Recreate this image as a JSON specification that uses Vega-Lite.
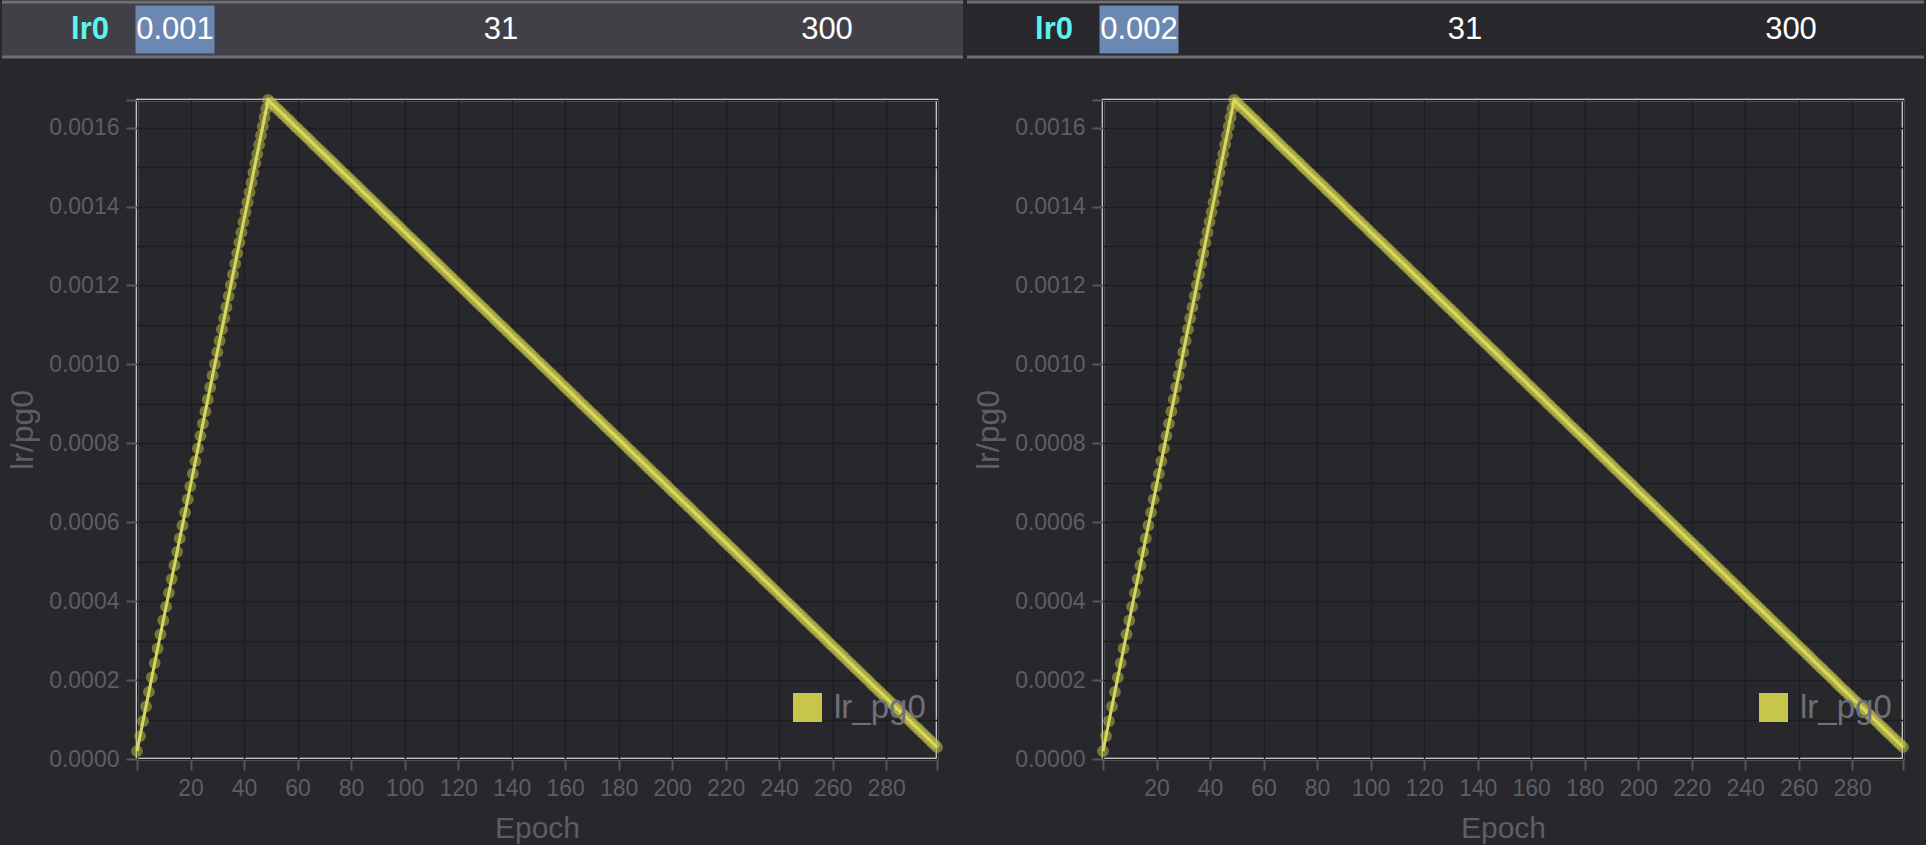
{
  "$schema": "https://vega.github.io/schema/vega-lite/v6.json",
  "background": "#27272c",
  "padding": 0,
  "spacing": 0,
  "resolve": {"scale": {"color": "independent"}, "legend": {"color": "independent"}},
  "datasets": {
    "lr": [
      {"epoch":0,"lr":0.00002},{"epoch":1.13,"lr":0.000058},{"epoch":2.25,"lr":0.000096},{"epoch":3.36,"lr":0.000133},
      {"epoch":4.46,"lr":0.00017},{"epoch":5.55,"lr":0.000207},{"epoch":6.63,"lr":0.000243},{"epoch":7.71,"lr":0.00028},
      {"epoch":8.78,"lr":0.000316},{"epoch":9.83,"lr":0.000351},{"epoch":10.88,"lr":0.000386},{"epoch":11.92,"lr":0.000421},
      {"epoch":12.95,"lr":0.000456},{"epoch":13.98,"lr":0.000491},{"epoch":14.99,"lr":0.000525},{"epoch":15.99,"lr":0.000559},
      {"epoch":16.99,"lr":0.000592},{"epoch":17.98,"lr":0.000625},{"epoch":18.96,"lr":0.000658},{"epoch":19.93,"lr":0.000691},
      {"epoch":20.89,"lr":0.000723},{"epoch":21.84,"lr":0.000755},{"epoch":22.78,"lr":0.000787},{"epoch":23.72,"lr":0.000819},
      {"epoch":24.64,"lr":0.00085},{"epoch":25.56,"lr":0.000881},{"epoch":26.47,"lr":0.000911},{"epoch":27.37,"lr":0.000942},
      {"epoch":28.26,"lr":0.000972},{"epoch":29.14,"lr":0.001001},{"epoch":30.02,"lr":0.001031},{"epoch":30.88,"lr":0.00106},
      {"epoch":31.74,"lr":0.001089},{"epoch":32.58,"lr":0.001117},{"epoch":33.42,"lr":0.001145},{"epoch":34.25,"lr":0.001173},
      {"epoch":35.07,"lr":0.001201},{"epoch":35.88,"lr":0.001228},{"epoch":36.69,"lr":0.001255},{"epoch":37.48,"lr":0.001282},
      {"epoch":38.27,"lr":0.001309},{"epoch":39.04,"lr":0.001335},{"epoch":39.81,"lr":0.001361},{"epoch":40.57,"lr":0.001386},
      {"epoch":41.32,"lr":0.001411},{"epoch":42.06,"lr":0.001436},{"epoch":42.8,"lr":0.001461},{"epoch":43.52,"lr":0.001486},
      {"epoch":44.24,"lr":0.00151},{"epoch":44.94,"lr":0.001533},{"epoch":45.64,"lr":0.001557},{"epoch":46.33,"lr":0.00158},
      {"epoch":47.01,"lr":0.001603},{"epoch":47.68,"lr":0.001626},{"epoch":48.35,"lr":0.001648},{"epoch":49,"lr":0.00167},
      {"epoch":50,"lr":0.001663},{"epoch":51,"lr":0.001657},{"epoch":52,"lr":0.00165},{"epoch":53,"lr":0.001644},{"epoch":54,"lr":0.001637},
      {"epoch":55,"lr":0.001631},{"epoch":56,"lr":0.001624},{"epoch":57,"lr":0.001618},{"epoch":58,"lr":0.001611},{"epoch":59,"lr":0.001604},
      {"epoch":60,"lr":0.001598},{"epoch":61,"lr":0.001591},{"epoch":62,"lr":0.001585},{"epoch":63,"lr":0.001578},{"epoch":64,"lr":0.001572},
      {"epoch":65,"lr":0.001565},{"epoch":66,"lr":0.001558},{"epoch":67,"lr":0.001552},{"epoch":68,"lr":0.001545},{"epoch":69,"lr":0.001539},
      {"epoch":70,"lr":0.001532},{"epoch":71,"lr":0.001526},{"epoch":72,"lr":0.001519},{"epoch":73,"lr":0.001513},{"epoch":74,"lr":0.001506},
      {"epoch":75,"lr":0.001499},{"epoch":76,"lr":0.001493},{"epoch":77,"lr":0.001486},{"epoch":78,"lr":0.00148},{"epoch":79,"lr":0.001473},
      {"epoch":80,"lr":0.001467},{"epoch":81,"lr":0.00146},{"epoch":82,"lr":0.001454},{"epoch":83,"lr":0.001447},{"epoch":84,"lr":0.00144},
      {"epoch":85,"lr":0.001434},{"epoch":86,"lr":0.001427},{"epoch":87,"lr":0.001421},{"epoch":88,"lr":0.001414},{"epoch":89,"lr":0.001408},
      {"epoch":90,"lr":0.001401},{"epoch":91,"lr":0.001394},{"epoch":92,"lr":0.001388},{"epoch":93,"lr":0.001381},{"epoch":94,"lr":0.001375},
      {"epoch":95,"lr":0.001368},{"epoch":96,"lr":0.001362},{"epoch":97,"lr":0.001355},{"epoch":98,"lr":0.001349},{"epoch":99,"lr":0.001342},
      {"epoch":100,"lr":0.001335},{"epoch":101,"lr":0.001329},{"epoch":102,"lr":0.001322},{"epoch":103,"lr":0.001316},{"epoch":104,"lr":0.001309},
      {"epoch":105,"lr":0.001303},{"epoch":106,"lr":0.001296},{"epoch":107,"lr":0.00129},{"epoch":108,"lr":0.001283},{"epoch":109,"lr":0.001276},
      {"epoch":110,"lr":0.00127},{"epoch":111,"lr":0.001263},{"epoch":112,"lr":0.001257},{"epoch":113,"lr":0.00125},{"epoch":114,"lr":0.001244},
      {"epoch":115,"lr":0.001237},{"epoch":116,"lr":0.00123},{"epoch":117,"lr":0.001224},{"epoch":118,"lr":0.001217},{"epoch":119,"lr":0.001211},
      {"epoch":120,"lr":0.001204},{"epoch":121,"lr":0.001198},{"epoch":122,"lr":0.001191},{"epoch":123,"lr":0.001185},{"epoch":124,"lr":0.001178},
      {"epoch":125,"lr":0.001171},{"epoch":126,"lr":0.001165},{"epoch":127,"lr":0.001158},{"epoch":128,"lr":0.001152},{"epoch":129,"lr":0.001145},
      {"epoch":130,"lr":0.001139},{"epoch":131,"lr":0.001132},{"epoch":132,"lr":0.001126},{"epoch":133,"lr":0.001119},{"epoch":134,"lr":0.001112},
      {"epoch":135,"lr":0.001106},{"epoch":136,"lr":0.001099},{"epoch":137,"lr":0.001093},{"epoch":138,"lr":0.001086},{"epoch":139,"lr":0.00108},
      {"epoch":140,"lr":0.001073},{"epoch":141,"lr":0.001066},{"epoch":142,"lr":0.00106},{"epoch":143,"lr":0.001053},{"epoch":144,"lr":0.001047},
      {"epoch":145,"lr":0.00104},{"epoch":146,"lr":0.001034},{"epoch":147,"lr":0.001027},{"epoch":148,"lr":0.001021},{"epoch":149,"lr":0.001014},
      {"epoch":150,"lr":0.001007},{"epoch":151,"lr":0.001001},{"epoch":152,"lr":0.000994},{"epoch":153,"lr":0.000988},{"epoch":154,"lr":0.000981},
      {"epoch":155,"lr":0.000975},{"epoch":156,"lr":0.000968},{"epoch":157,"lr":0.000962},{"epoch":158,"lr":0.000955},{"epoch":159,"lr":0.000948},
      {"epoch":160,"lr":0.000942},{"epoch":161,"lr":0.000935},{"epoch":162,"lr":0.000929},{"epoch":163,"lr":0.000922},{"epoch":164,"lr":0.000916},
      {"epoch":165,"lr":0.000909},{"epoch":166,"lr":0.000902},{"epoch":167,"lr":0.000896},{"epoch":168,"lr":0.000889},{"epoch":169,"lr":0.000883},
      {"epoch":170,"lr":0.000876},{"epoch":171,"lr":0.00087},{"epoch":172,"lr":0.000863},{"epoch":173,"lr":0.000857},{"epoch":174,"lr":0.00085},
      {"epoch":175,"lr":0.000843},{"epoch":176,"lr":0.000837},{"epoch":177,"lr":0.00083},{"epoch":178,"lr":0.000824},{"epoch":179,"lr":0.000817},
      {"epoch":180,"lr":0.000811},{"epoch":181,"lr":0.000804},{"epoch":182,"lr":0.000798},{"epoch":183,"lr":0.000791},{"epoch":184,"lr":0.000784},
      {"epoch":185,"lr":0.000778},{"epoch":186,"lr":0.000771},{"epoch":187,"lr":0.000765},{"epoch":188,"lr":0.000758},{"epoch":189,"lr":0.000752},
      {"epoch":190,"lr":0.000745},{"epoch":191,"lr":0.000738},{"epoch":192,"lr":0.000732},{"epoch":193,"lr":0.000725},{"epoch":194,"lr":0.000719},
      {"epoch":195,"lr":0.000712},{"epoch":196,"lr":0.000706},{"epoch":197,"lr":0.000699},{"epoch":198,"lr":0.000693},{"epoch":199,"lr":0.000686},
      {"epoch":200,"lr":0.000679},{"epoch":201,"lr":0.000673},{"epoch":202,"lr":0.000666},{"epoch":203,"lr":0.00066},{"epoch":204,"lr":0.000653},
      {"epoch":205,"lr":0.000647},{"epoch":206,"lr":0.00064},{"epoch":207,"lr":0.000634},{"epoch":208,"lr":0.000627},{"epoch":209,"lr":0.00062},
      {"epoch":210,"lr":0.000614},{"epoch":211,"lr":0.000607},{"epoch":212,"lr":0.000601},{"epoch":213,"lr":0.000594},{"epoch":214,"lr":0.000588},
      {"epoch":215,"lr":0.000581},{"epoch":216,"lr":0.000574},{"epoch":217,"lr":0.000568},{"epoch":218,"lr":0.000561},{"epoch":219,"lr":0.000555},
      {"epoch":220,"lr":0.000548},{"epoch":221,"lr":0.000542},{"epoch":222,"lr":0.000535},{"epoch":223,"lr":0.000529},{"epoch":224,"lr":0.000522},
      {"epoch":225,"lr":0.000515},{"epoch":226,"lr":0.000509},{"epoch":227,"lr":0.000502},{"epoch":228,"lr":0.000496},{"epoch":229,"lr":0.000489},
      {"epoch":230,"lr":0.000483},{"epoch":231,"lr":0.000476},{"epoch":232,"lr":0.00047},{"epoch":233,"lr":0.000463},{"epoch":234,"lr":0.000456},
      {"epoch":235,"lr":0.00045},{"epoch":236,"lr":0.000443},{"epoch":237,"lr":0.000437},{"epoch":238,"lr":0.00043},{"epoch":239,"lr":0.000424},
      {"epoch":240,"lr":0.000417},{"epoch":241,"lr":0.00041},{"epoch":242,"lr":0.000404},{"epoch":243,"lr":0.000397},{"epoch":244,"lr":0.000391},
      {"epoch":245,"lr":0.000384},{"epoch":246,"lr":0.000378},{"epoch":247,"lr":0.000371},{"epoch":248,"lr":0.000365},{"epoch":249,"lr":0.000358},
      {"epoch":250,"lr":0.000351},{"epoch":251,"lr":0.000345},{"epoch":252,"lr":0.000338},{"epoch":253,"lr":0.000332},{"epoch":254,"lr":0.000325},
      {"epoch":255,"lr":0.000319},{"epoch":256,"lr":0.000312},{"epoch":257,"lr":0.000306},{"epoch":258,"lr":0.000299},{"epoch":259,"lr":0.000292},
      {"epoch":260,"lr":0.000286},{"epoch":261,"lr":0.000279},{"epoch":262,"lr":0.000273},{"epoch":263,"lr":0.000266},{"epoch":264,"lr":0.00026},
      {"epoch":265,"lr":0.000253},{"epoch":266,"lr":0.000246},{"epoch":267,"lr":0.00024},{"epoch":268,"lr":0.000233},{"epoch":269,"lr":0.000227},
      {"epoch":270,"lr":0.00022},{"epoch":271,"lr":0.000214},{"epoch":272,"lr":0.000207},{"epoch":273,"lr":0.000201},{"epoch":274,"lr":0.000194},
      {"epoch":275,"lr":0.000187},{"epoch":276,"lr":0.000181},{"epoch":277,"lr":0.000174},{"epoch":278,"lr":0.000168},{"epoch":279,"lr":0.000161},
      {"epoch":280,"lr":0.000155},{"epoch":281,"lr":0.000148},{"epoch":282,"lr":0.000142},{"epoch":283,"lr":0.000135},{"epoch":284,"lr":0.000128},
      {"epoch":285,"lr":0.000122},{"epoch":286,"lr":0.000115},{"epoch":287,"lr":0.000109},{"epoch":288,"lr":0.000102},{"epoch":289,"lr":0.000096},
      {"epoch":290,"lr":0.000089},{"epoch":291,"lr":0.000082},{"epoch":292,"lr":0.000076},{"epoch":293,"lr":0.000069},{"epoch":294,"lr":0.000063},
      {"epoch":295,"lr":0.000056},{"epoch":296,"lr":0.00005},{"epoch":297,"lr":0.000043},{"epoch":298,"lr":0.000037},{"epoch":299,"lr":0.00003}
    ],
    "headL": [
      {"col": "value", "label": "0.001", "name": "lr0"},
      {"col": "steps", "label": "31"},
      {"col": "total", "label": "300"}
    ],
    "headR": [
      {"col": "value", "label": "0.002", "name": "lr0"},
      {"col": "steps", "label": "31"},
      {"col": "total", "label": "300"}
    ]
  },
  "hconcat": [
    {
      "columns": 1,
      "spacing": 33,
      "resolve": {"scale": {"color": "independent"}, "legend": {"color": "independent"}},
      "concat": [
        {
          "width": 826,
          "height": 55,
          "view": {"fill": null, "stroke": null},
          "data": {"name": "headL"},
          "resolve": {"scale": {"x": "independent"}},
          "encoding": {
            "y": {"datum": "h", "type": "nominal", "axis": null,
              "scale": {"type": "band", "paddingInner": 0, "paddingOuter": 0}}
          },
          "layer": [
            {
              "transform": [{"filter": "datum.col == 'value'"}],
              "mark": {"type": "bar", "color": "#404046", "stroke": "#6e6e74", "strokeWidth": 3, "strokeDash": [961, 55]},
              "encoding": {
                "x": {"datum": 0, "type": "quantitative", "axis": null, "scale": {"domain": [0, 1], "range": [-135, 826]}},
                "x2": {"datum": 1}
              }
            },
            {
              "encoding": {
                "x": {"field": "col", "type": "nominal", "axis": null,
                  "scale": {"type": "point", "domain": ["value", "steps", "total"], "range": [38, 690], "padding": 0}}
              },
              "layer": [
                {"transform": [{"filter": "datum.col == 'value'"}], "mark": {"type": "bar", "color": "#6b88b2", "width": 79, "height": 48}},
                {"transform": [{"filter": "datum.col == 'value'"}], "mark": {"type": "text", "align": "right", "dx": -66, "fontWeight": "bold", "color": "#5ef2ee", "fontSize": 31, "font": "Liberation Sans"}, "encoding": {"text": {"field": "name"}}},
                {"mark": {"type": "text", "align": "center", "color": "#ffffff", "fontSize": 31, "font": "Liberation Sans"}, "encoding": {"text": {"field": "label"}}}
              ]
            }
          ]
        },
        {
          "width": 800,
          "height": 659,
          "view": {"stroke": "#ffffff", "strokeWidth": 2.5},
          "data": {"name": "lr"},
          "encoding": {
            "x": {"field": "epoch", "type": "quantitative", "title": "Epoch",
              "scale": {"domain": [0, 299], "nice": false},
              "axis": {"values": [0, 20, 40, 60, 80, 100, 120, 140, 160, 180, 200, 220, 240, 260, 280, 299], "titlePadding": 13, "titleFontSize": 30,
                "labelExpr": "datum.value == 0 || datum.value == 299 ? '' : datum.label"}},
            "y": {"field": "lr", "type": "quantitative", "title": "lr/pg0",
              "scale": {"domain": [0, 0.00167], "nice": false},
              "axis": {"values": [0, 0.0001, 0.0002, 0.0003, 0.0004, 0.0005, 0.0006, 0.0007, 0.0008, 0.0009, 0.001, 0.0011, 0.0012, 0.0013, 0.0014, 0.0015, 0.0016, 0.00167], "titlePadding": 9, "titleFontSize": 32,
                "labelExpr": "round(datum.value * 100000) % 20 == 0 ? format(datum.value, '.4f') : ''",
                "tickOpacity": {"condition": {"test": "round(datum.value * 100000) % 20 == 10", "value": 0}, "value": 1}}}
          },
          "layer": [
            {
              "mark": {"type": "circle", "size": 140, "opacity": 0.5},
              "encoding": {
                "color": {"datum": "lr_pg0", "type": "nominal", "scale": {"range": ["#c6c64a"]},
                  "legend": {"orient": "none", "legendX": 654, "legendY": 591, "title": null, "symbolType": "square", "symbolSize": 841, "symbolOpacity": 1, "symbolStrokeWidth": 0,
                    "labelFontSize": 33, "labelColor": "#707076", "labelFont": "Liberation Sans", "labelOffset": 10, "padding": 0}}
              }
            },
            {"mark": {"type": "line", "color": "#d8d85e", "strokeWidth": 3}}
          ]
        }
      ]
    },
    {
      "columns": 1,
      "spacing": 33,
      "resolve": {"scale": {"color": "independent"}, "legend": {"color": "independent"}},
      "concat": [
        {
          "width": 821,
          "height": 55,
          "view": {"fill": null, "stroke": null},
          "data": {"name": "headR"},
          "resolve": {"scale": {"x": "independent"}},
          "encoding": {
            "y": {"datum": "h", "type": "nominal", "axis": null,
              "scale": {"type": "band", "paddingInner": 0, "paddingOuter": 0}}
          },
          "layer": [
            {
              "transform": [{"filter": "datum.col == 'value'"}],
              "mark": {"type": "bar", "color": "#27272c", "stroke": "#6e6e74", "strokeWidth": 3, "strokeDash": [957, 55]},
              "encoding": {
                "x": {"datum": 0, "type": "quantitative", "axis": null, "scale": {"domain": [0, 1], "range": [-136, 821]}},
                "x2": {"datum": 1}
              }
            },
            {
              "encoding": {
                "x": {"field": "col", "type": "nominal", "axis": null,
                  "scale": {"type": "point", "domain": ["value", "steps", "total"], "range": [36, 688], "padding": 0}}
              },
              "layer": [
                {"transform": [{"filter": "datum.col == 'value'"}], "mark": {"type": "bar", "color": "#6b88b2", "width": 79, "height": 48}},
                {"transform": [{"filter": "datum.col == 'value'"}], "mark": {"type": "text", "align": "right", "dx": -66, "fontWeight": "bold", "color": "#5ef2ee", "fontSize": 31, "font": "Liberation Sans"}, "encoding": {"text": {"field": "name"}}},
                {"mark": {"type": "text", "align": "center", "color": "#ffffff", "fontSize": 31, "font": "Liberation Sans"}, "encoding": {"text": {"field": "label"}}}
              ]
            }
          ]
        },
        {
          "width": 800,
          "height": 659,
          "view": {"stroke": "#ffffff", "strokeWidth": 2.5},
          "data": {"name": "lr"},
          "encoding": {
            "x": {"field": "epoch", "type": "quantitative", "title": "Epoch",
              "scale": {"domain": [0, 299], "nice": false},
              "axis": {"values": [0, 20, 40, 60, 80, 100, 120, 140, 160, 180, 200, 220, 240, 260, 280, 299], "titlePadding": 13, "titleFontSize": 30,
                "labelExpr": "datum.value == 0 || datum.value == 299 ? '' : datum.label"}},
            "y": {"field": "lr", "type": "quantitative", "title": "lr/pg0",
              "scale": {"domain": [0, 0.00167], "nice": false},
              "axis": {"values": [0, 0.0001, 0.0002, 0.0003, 0.0004, 0.0005, 0.0006, 0.0007, 0.0008, 0.0009, 0.001, 0.0011, 0.0012, 0.0013, 0.0014, 0.0015, 0.0016, 0.00167], "titlePadding": 9, "titleFontSize": 32,
                "labelExpr": "round(datum.value * 100000) % 20 == 0 ? format(datum.value, '.4f') : ''",
                "tickOpacity": {"condition": {"test": "round(datum.value * 100000) % 20 == 10", "value": 0}, "value": 1}}}
          },
          "layer": [
            {
              "mark": {"type": "circle", "size": 140, "opacity": 0.5},
              "encoding": {
                "color": {"datum": "lr_pg0", "type": "nominal", "scale": {"range": ["#c6c64a"]},
                  "legend": {"orient": "none", "legendX": 654, "legendY": 591, "title": null, "symbolType": "square", "symbolSize": 841, "symbolOpacity": 1, "symbolStrokeWidth": 0,
                    "labelFontSize": 33, "labelColor": "#707076", "labelFont": "Liberation Sans", "labelOffset": 10, "padding": 0}}
              }
            },
            {"mark": {"type": "line", "color": "#d8d85e", "strokeWidth": 3}}
          ]
        }
      ]
    }
  ],
  "config": {
    "font": "Liberation Sans",
    "axis": {
      "labelFont": "Liberation Sans",
      "labelFontSize": 23,
      "labelColor": "#5e5e64",
      "labelPadding": 7,
      "titleFont": "Liberation Sans",
      "titleFontWeight": "normal",
      "titleColor": "#5e5e64",
      "tickColor": "#56565c",
      "tickSize": 11,
      "tickWidth": 2,
      "gridColor": "#1d1d21",
      "gridWidth": 1.5,
      "domain": false
    }
  }
}
